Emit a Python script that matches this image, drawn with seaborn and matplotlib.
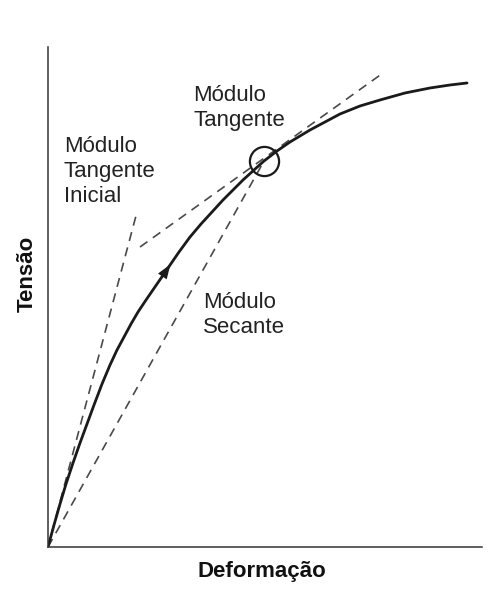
import numpy as np
import pandas as pd
import seaborn as sns
import matplotlib.pyplot as plt

# --- dados (deformação x tensão, unidades arbitrárias) ---
deformacao = [0, 6, 12, 18, 25, 32, 39, 46, 54, 62, 69, 76, 83, 90, 98, 109, 120, 131, 142,
              153, 164, 175, 185, 195, 206, 216, 229, 242, 252, 262, 277, 292, 312, 332,
              357, 382, 402, 419]
tensao = [0, 22, 43, 63, 84, 104, 123, 142, 163, 182, 197, 210, 223, 235, 247, 263, 279, 295,
          310, 323, 335, 347, 357, 367, 377, 386, 396, 405, 411, 417, 425, 433, 441, 447,
          454, 459, 462, 464]

# retas tracejadas (dois pontos cada)
tang_inicial_x = [0, 89]
tang_inicial_y = [0, 335]
secante_x = [0, 216]
secante_y = [0, 386]
tangente_x = [92, 335]
tangente_y = [300, 474]

# ponto de referência (círculo)
ponto_x = [216]
ponto_y = [386]

# seta sobre a curva
seta_de = (118, 276)
seta_para = (124, 285)

rotulos = ['Módulo\nTangente\nInicial', 'Módulo\nTangente', 'Módulo\nSecante']
rot_x = [16, 145, 155]
rot_y = [345, 421, 214]  # linha de base da última linha

# --- figura ---
sns.set_style('white')
plt.rcParams['font.family'] = ['Liberation Sans', 'DejaVu Sans']

fig = plt.figure(figsize=(5.01, 5.94), dpi=100)
ax = fig.add_axes([0.0958, 0.0791, 0.8663, 0.8418])

cor_traco = '#4a4a4a'
for xs, ys in [(tang_inicial_x, tang_inicial_y), (secante_x, secante_y), (tangente_x, tangente_y)]:
    sns.lineplot(x=xs, y=ys, ax=ax, color=cor_traco, linewidth=1.2,
                 sort=False, estimator=None)
for ln in ax.lines:
    ln.set_dashes((5.5, 4))

sns.lineplot(x=deformacao, y=tensao, ax=ax, color='#1a1a1a', linewidth=2.0,
             sort=False, estimator=None)

ax.plot(ponto_x, ponto_y, marker='o', markersize=21, markerfacecolor='none',
        markeredgecolor='#1a1a1a', markeredgewidth=1.6, linestyle='none')

ax.annotate('', xy=seta_para, xytext=seta_de,
            arrowprops=dict(arrowstyle='-|>,head_length=0.7,head_width=0.25',
                            mutation_scale=15, color='#1a1a1a', lw=0))

for txt, x, y in zip(rotulos, rot_x, rot_y):
    ax.text(x, y, txt, fontsize=16, color='#222222', ha='left', va='baseline',
            linespacing=1.25)

ax.set_xlim(0, 434)
ax.set_ylim(0, 500)
ax.set_xticks([])
ax.set_yticks([])
sns.despine(ax=ax)
for lado in ['left', 'bottom']:
    ax.spines[lado].set_color('#333333')
    ax.spines[lado].set_linewidth(1.1)

ax.set_xlabel('Deformação', fontsize=16, fontweight='bold', color='#111111')
ax.set_ylabel('Tensão', fontsize=16, fontweight='bold', color='#111111')
ax.xaxis.set_label_coords(0.493, -0.028)
ax.yaxis.set_label_coords(-0.024, 0.546)

fig.savefig('out.png', dpi=100)
